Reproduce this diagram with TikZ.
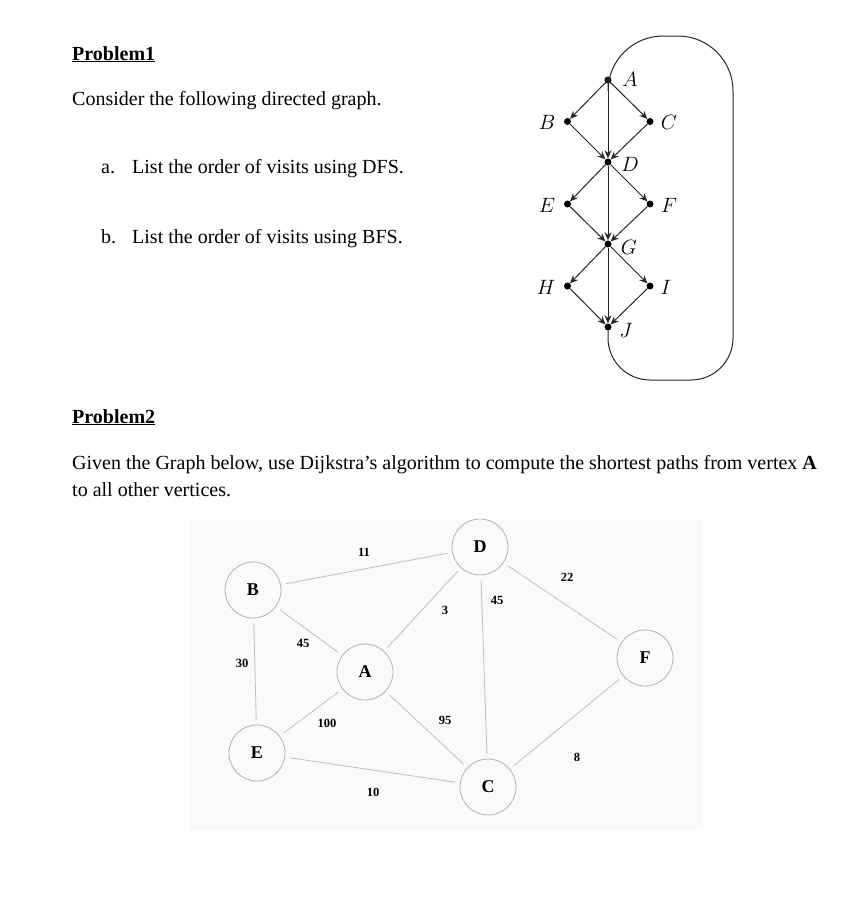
\documentclass[tikz,border=0pt]{standalone}
\usepackage{fontspec}
\setmainfont{Liberation Serif}
\usetikzlibrary{arrows.meta}
\begin{document}
\begin{tikzpicture}[x=1pt,y=-1pt,
  txt/.style={anchor=base west,inner sep=0,font=\fontsize{20}{24}\selectfont},
  dot/.style={circle,fill=black,inner sep=0,minimum size=7pt},
  dlab/.style={inner sep=0,font=\fontsize{21}{23}\selectfont},
  darr/.style={line width=1pt,draw=black!85,-{Stealth[length=8pt,width=7pt]}},
  vtx/.style={circle,draw=gray!60,line width=0.8pt,minimum size=56pt,inner sep=0,font=\fontsize{18}{20}\selectfont\bfseries},
  wedge/.style={draw=gray!50,line width=0.8pt,shorten >=5pt,shorten <=5pt},
  wlab/.style={inner sep=0,font=\fontsize{12.5}{14}\selectfont\bfseries}]
\useasboundingbox (0,0) rectangle (864,903);
\fill[black!2] (190,520) rectangle (703,830);

% ---- texts
\node[txt] (p1) at (72,60) {\underline{\textbf{Problem1}}};
\node[txt] (t1) at (72,105) {Consider the following directed graph.};
\node[txt] (a1) at (101,173) {a.};
\node[txt] (a2) at (132,173) {List the order of visits using DFS.};
\node[txt] (b1) at (101,243) {b.};
\node[txt] (b2) at (132,243) {List the order of visits using BFS.};
\node[txt] (p2) at (72,423) {\underline{\textbf{Problem2}}};
\node[txt] (g1) at (72,469) {Given the Graph below, use Dijkstra’s algorithm to compute the shortest paths from vertex \textbf{A}};
\node[txt] (g2) at (72,496) {to all other vertices.};

% ---- directed graph
\node[dot] (A) at (608,80) {};
\node[dot] (B) at (567.5,121.5) {};
\node[dot] (C) at (650,121.5) {};
\node[dot] (D) at (608,162) {};
\node[dot] (E) at (567.5,204) {};
\node[dot] (F) at (650,204) {};
\node[dot] (G) at (608,244) {};
\node[dot] (H) at (567.5,286) {};
\node[dot] (I) at (650,286) {};
\node[dot] (J) at (608,327) {};

\node[dlab] (lA) at (630,79) {$A$};
\node[dlab] (lB) at (547,122) {$B$};
\node[dlab] (lC) at (669,122) {$C$};
\node[dlab] (lD) at (630,164) {$D$};
\node[dlab] (lE) at (547,205) {$E$};
\node[dlab] (lF) at (669,205) {$F$};
\node[dlab] (lG) at (629,247) {$G$};
\node[dlab] (lH) at (546,287) {$H$};
\node[dlab] (lI) at (666,287) {$I$};
\node[dlab] (lJ) at (626,330) {$J$};

\foreach \s/\t in {A/B,A/C,A/D,B/D,C/D,D/E,D/F,D/G,E/G,F/G,G/H,G/I,G/J,H/J,I/J}
  \draw[darr] (\s) -- (\t);
\coordinate (q1) at (608,380);
\coordinate (q2) at (733,380);
\coordinate (q3) at (733,36);
\coordinate (q4) at (608,36);
\draw[darr,rounded corners=42pt] (J.south) -- (q1) -- (q2) [rounded corners=55pt] -- (q3) -- (q4) [rounded corners=0pt] -- (A.north);

% ---- weighted graph
\node[vtx] (wB) at (253,590) {B};
\node[vtx] (wD) at (480,547) {D};
\node[vtx] (wA) at (365,672) {A};
\node[vtx] (wF) at (645,658) {F};
\node[vtx] (wC) at (488,787) {C};
\node[vtx] (wE) at (257,753) {E};

\draw[wedge] (wB) -- (wD);
\draw[wedge] (wB) -- (wA);
\draw[wedge] (wB) -- (wE);
\draw[wedge] (wD) -- (wA);
\draw[wedge] (wD) -- (wC);
\draw[wedge] (wD) -- (wF);
\draw[wedge] (wA) -- (wE);
\draw[wedge] (wA) -- (wC);
\draw[wedge] (wE) -- (wC);
\draw[wedge] (wF) -- (wC);

\node[wlab] (w11) at (364,552) {11};
\node[wlab] (w45a) at (303,643) {45};
\node[wlab] (w30) at (242,663) {30};
\node[wlab] (w3) at (445,610) {3};
\node[wlab] (w45b) at (497,600) {45};
\node[wlab] (w22) at (567,577) {22};
\node[wlab] (w95) at (445,720) {95};
\node[wlab] (w8) at (577,757) {8};
\node[wlab] (w100) at (327,723) {100};
\node[wlab] (w10) at (373,792) {10};
\end{tikzpicture}
\end{document}
